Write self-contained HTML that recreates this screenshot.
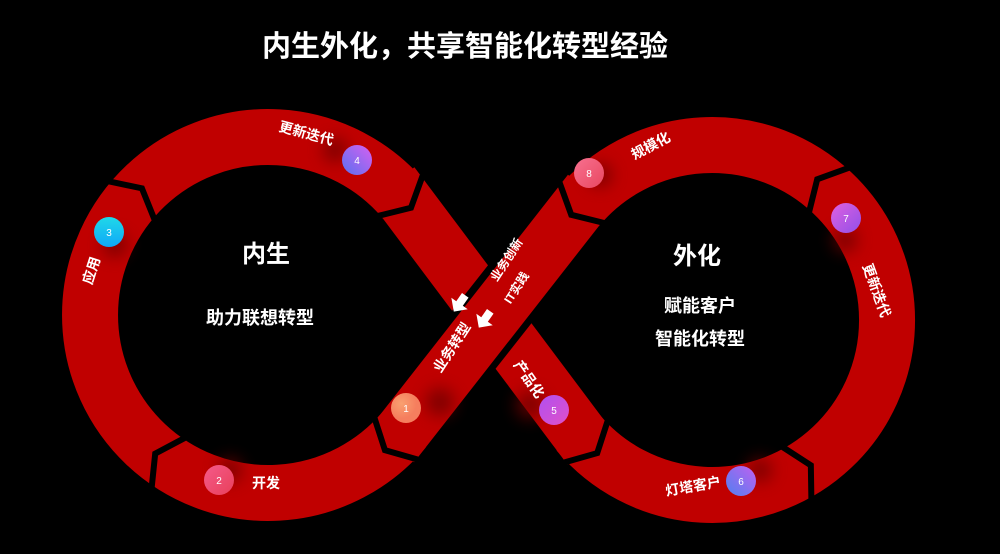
<!DOCTYPE html>
<html><head><meta charset="utf-8"><style>
html,body{margin:0;padding:0;background:#000;}
body{width:1000px;height:554px;overflow:hidden;position:relative;font-family:"Liberation Sans","Noto Sans CJK SC",sans-serif;}
svg{position:absolute;left:0;top:0}
</style></head><body>
<svg id="s" width="1000" height="554" viewBox="0 0 1000 554" xmlns="http://www.w3.org/2000/svg">
<defs>
<radialGradient id="g1" cx="35%" cy="35%"><stop offset="0" stop-color="#f9a070"/><stop offset="1" stop-color="#f57e5e"/></radialGradient>
<linearGradient id="g2" x1="0" y1="0" x2="1" y2="1"><stop offset="0" stop-color="#f55a8a"/><stop offset="1" stop-color="#e8405a"/></linearGradient>
<linearGradient id="g3" x1="0" y1="0" x2="0" y2="1"><stop offset="0" stop-color="#20d8e8"/><stop offset="1" stop-color="#10a8f8"/></linearGradient>
<linearGradient id="g4" x1="1" y1="0" x2="0" y2="1"><stop offset="0" stop-color="#d860f0"/><stop offset="1" stop-color="#5870f0"/></linearGradient>
<linearGradient id="g5" x1="0" y1="0" x2="1" y2="1"><stop offset="0" stop-color="#b050f0"/><stop offset="1" stop-color="#e050c8"/></linearGradient>
<linearGradient id="g6" x1="1" y1="0" x2="0" y2="1"><stop offset="0" stop-color="#c060f0"/><stop offset="1" stop-color="#5080f0"/></linearGradient>
<linearGradient id="g7" x1="0" y1="0" x2="1" y2="1"><stop offset="0" stop-color="#e060e0"/><stop offset="1" stop-color="#9050e8"/></linearGradient>
<linearGradient id="g8" x1="0" y1="0" x2="1" y2="1"><stop offset="0" stop-color="#f87090"/><stop offset="1" stop-color="#e84860"/></linearGradient>
<filter id="bl"><feGaussianBlur stdDeviation="8"/></filter>
</defs>
<!-- under diagonal -->
<line x1="392" y1="184" x2="590" y2="448" stroke="#c00000" stroke-width="56"/>
<!-- arcs -->
<g fill="none" stroke="#c00000" stroke-width="56">
<path d="M404.4,200.6 A178,178 0 1 0 404.4,429.4"/>
<path d="M578,207.5 A175,175 0 1 1 578,432.5"/>
</g>
<!-- over diagonal -->
<line x1="450" y1="370" x2="532" y2="266" stroke="#000" stroke-width="70"/>
<line x1="392" y1="445" x2="590" y2="192" stroke="#c00000" stroke-width="56"/>
<g id="ch" fill="none" stroke="#000" stroke-width="6" stroke-linejoin="miter"></g>
<g filter="url(#bl)" fill="#700000" opacity="0.8">
<circle cx="440" cy="402" r="14"/><circle cx="530" cy="405" r="14"/><circle cx="230" cy="470" r="12"/>
<circle cx="115" cy="245" r="12"/><circle cx="335" cy="150" r="12"/><circle cx="600" cy="175" r="12"/>
<circle cx="845" cy="240" r="12"/><circle cx="760" cy="470" r="12"/>
</g>
<g font-size="10" fill="#fff" text-anchor="middle" font-family="Liberation Sans,sans-serif">
<circle cx="406" cy="408" r="15" fill="url(#g1)"/><text x="406" y="412">1</text>
<circle cx="219" cy="480" r="15" fill="url(#g2)"/><text x="219" y="484">2</text>
<circle cx="109" cy="232" r="15" fill="url(#g3)"/><text x="109" y="236">3</text>
<circle cx="357" cy="160" r="15" fill="url(#g4)"/><text x="357" y="164">4</text>
<circle cx="554" cy="410" r="15" fill="url(#g5)"/><text x="554" y="414">5</text>
<circle cx="741" cy="481" r="15" fill="url(#g6)"/><text x="741" y="485">6</text>
<circle cx="846" cy="218" r="15" fill="url(#g7)"/><text x="846" y="222">7</text>
<circle cx="589" cy="173" r="15" fill="url(#g8)"/><text x="589" y="177">8</text>
</g>
<g fill="#fff" font-weight="bold" font-family="Liberation Sans,Noto Sans CJK SC,sans-serif">
<text x="465" y="56" font-size="29" text-anchor="middle">内生外化，共享智能化转型经验</text>
<text x="266" y="262" font-size="24" text-anchor="middle">内生</text>
<text x="260" y="324" font-size="18" text-anchor="middle">助力联想转型</text>
<text x="697" y="264" font-size="24" text-anchor="middle">外化</text>
<text x="700" y="312" font-size="18" text-anchor="middle">赋能客户</text>
<text x="700" y="345" font-size="18" text-anchor="middle">智能化转型</text>
<g font-size="14" text-anchor="middle">
<text transform="translate(305,138) rotate(15)">更新迭代</text>
<text transform="translate(96,272) rotate(-72)">应用</text>
<text x="266" y="488">开发</text>
<text transform="translate(456,350) rotate(-57)">业务转型</text>
<text transform="translate(510,262) rotate(-57)" font-size="12">业务创新</text>
<text transform="translate(520,290) rotate(-57)" font-size="12">IT实践</text>
<text transform="translate(525,382) rotate(55)">产品化</text>
<text transform="translate(694,491) rotate(-10)">灯塔客户</text>
<text transform="translate(872,292) rotate(70)">更新迭代</text>
<text transform="translate(653,150) rotate(-28)">规模化</text>
</g>
</g>
<g fill="#fff">
<polygon points="0,0 8,0 8,10 14,10 4,20 -6,10 0,10" transform="translate(462,293) rotate(35)"/>
<polygon points="0,0 8,0 8,10 14,10 4,20 -6,10 0,10" transform="translate(487,309) rotate(35)"/>
</g>
</svg>
<script>
var g=document.getElementById('ch'),ns='http://www.w3.org/2000/svg';
function chev(cx,cy,r,deg,dir){var a=deg*Math.PI/180,ux=Math.cos(a),uy=Math.sin(a),tx=-Math.sin(a)*dir,ty=Math.cos(a)*dir,w=30;
var p=[[cx+(r+w)*ux,cy+(r+w)*uy],[cx+r*ux+16*tx,cy+r*uy+16*ty],[cx+(r-w)*ux,cy+(r-w)*uy]];
var e=document.createElementNS(ns,'polyline');e.setAttribute('points',p.map(function(q){return q.join(',')}).join(' '));g.appendChild(e);}
chev(268,315,178,-140,1);chev(268,315,178,124,1);chev(268,315,178,-42,1);chev(268,315,178,44,1);
chev(712,320,175,-48,-1);chev(712,320,175,61,-1);chev(712,320,175,-138,-1);chev(712,320,175,136,-1);
</script>
</body></html>
